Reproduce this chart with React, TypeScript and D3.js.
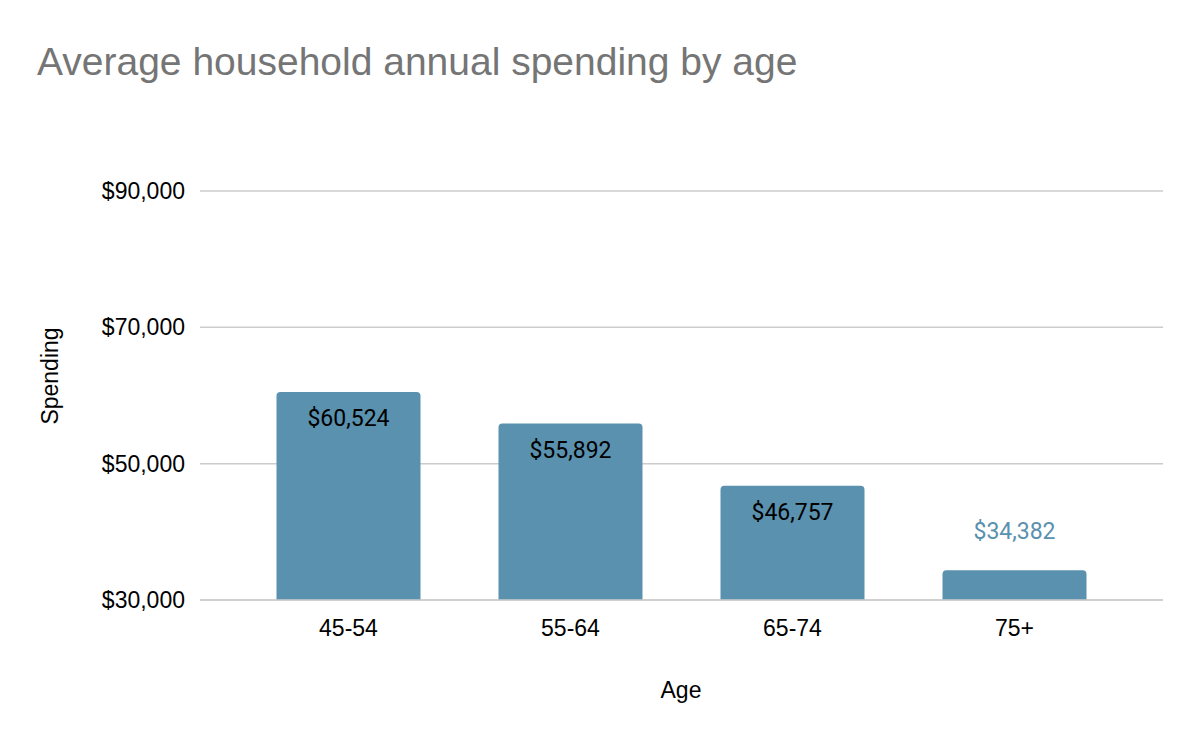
import React from "react";
import * as d3 from "d3";

const categories = ["45-54", "55-64", "65-74", "75+"];
const spending = [60524, 55892, 46757, 34382];
const yTicks = [30000, 50000, 70000, 90000];
const title = "Average household annual spending by age";
const xTitle = "Age";
const yTitle = "Spending";

const W = 1200;
const H = 742;
const left = 200;
const right = 1163;
const top = 191;
const bottom = 600;
const barColor = "#5991ae";

function topRoundedRect(x: number, y: number, w: number, h: number, r: number) {
  const rr = Math.min(r, h, w / 2);
  return `M${x},${y + h}V${y + rr}Q${x},${y} ${x + rr},${y}H${x + w - rr}Q${x + w},${y} ${x + w},${y + rr}V${y + h}Z`;
}

export default function App() {
  const x = d3.scaleBand<string>().domain(categories).range([left, right]).paddingInner(0.3514).paddingOuter(0.3446);
  const y = d3.scaleLinear().domain([30000, 90000]).range([bottom, top]);
  const fmt = (v: number) => "$" + d3.format(",")(v);
  const arial = "'Liberation Sans', Arial, sans-serif";
  const roboto = "Roboto, 'Liberation Sans', Arial, sans-serif";

  return (
    <svg width={W} height={H} style={{ position: "absolute", left: 0, top: 0, background: "#fff" }}>
      <rect width={W} height={H} fill="#fff" />
      <text x={37} y={75} fontFamily={arial} fontSize={39} fill="#757575">
        {title}
      </text>
      {yTicks.map((t) => (
        <g key={t}>
          <line x1={left} x2={right} y1={y(t)} y2={y(t)} stroke="#cccccc" strokeWidth={1.5} />
          <text x={185} y={y(t)} dy="0.35em" textAnchor="end" fontFamily={arial} fontSize={23} fill="#000">
            {fmt(t)}
          </text>
        </g>
      ))}
      {categories.map((c, i) => {
        const v = spending[i];
        const bx = x(c)!;
        const bw = x.bandwidth();
        const by = y(v);
        const h = bottom - by;
        const inside = h > 60;
        return (
          <g key={c}>
            <path d={topRoundedRect(bx, by, bw, h, 4)} fill={barColor} />
            <text
              x={bx + bw / 2}
              y={inside ? by + 34 : by - 31}
              textAnchor="middle"
              fontFamily={roboto}
              fontSize={23}
              fill={inside ? "#000" : barColor}
            >
              {fmt(v)}
            </text>
            <text x={bx + bw / 2} y={636} textAnchor="middle" fontFamily={arial} fontSize={23} fill="#000">
              {c}
            </text>
          </g>
        );
      })}
      <line x1={left} x2={right} y1={bottom} y2={bottom} stroke="#cccccc" strokeWidth={1.5} />
      <text x={681} y={698} textAnchor="middle" fontFamily={arial} fontSize={23} fill="#000">
        {xTitle}
      </text>
      <text
        transform={`translate(58,376) rotate(-90)`}
        textAnchor="middle"
        fontFamily={arial}
        fontSize={23}
        fill="#000"
      >
        {yTitle}
      </text>
    </svg>
  );
}
